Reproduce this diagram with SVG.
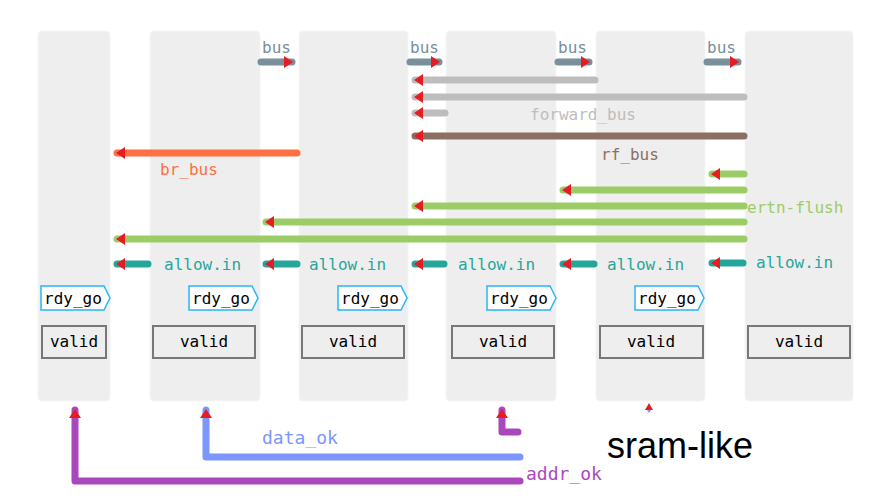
<svg xmlns="http://www.w3.org/2000/svg" width="892" height="502" viewBox="0 0 892 502">
<defs>
<style>
.col{fill:#eeeeee;stroke:#f5f5f5;stroke-width:1}
.w{fill:none;stroke-width:7;stroke-linecap:round;stroke-linejoin:round}
.t{font-family:"DejaVu Sans Mono","Liberation Mono",monospace;font-size:16px}
.valid{fill:#eeeeee;stroke:#777;stroke-width:2}
.rdy{fill:#fff;stroke:#29b6f6;stroke-width:1.5}
</style>
<marker id="ah" markerUnits="userSpaceOnUse" markerWidth="12" markerHeight="14" refX="8" refY="7" orient="auto"><path d="M0,1 L9,7 L0,13 Z" fill="#e51c23"/></marker>
</defs>
<rect width="892" height="502" fill="#fff"/>
<g id="columns">
<rect class="col" x="38" y="31" width="72" height="370" rx="4"/>
<rect class="col" x="150" y="31" width="110" height="370" rx="4"/>
<rect class="col" x="299" y="31" width="109" height="370" rx="4"/>
<rect class="col" x="446" y="31" width="110" height="370" rx="4"/>
<rect class="col" x="596" y="31" width="109" height="370" rx="4"/>
<rect class="col" x="745" y="31" width="108" height="370" rx="4"/>
</g>
<g id="connectors">
<g stroke="#78909c" class="w"><path d="M261,62H292" marker-end="url(#ah)"/><path d="M410,62H439" marker-end="url(#ah)"/><path d="M558,62H589" marker-end="url(#ah)"/><path d="M707,62H738" marker-end="url(#ah)"/></g>
<g stroke="#bdbdbd" class="w"><path d="M595,80H415" marker-end="url(#ah)"/><path d="M744,97H415" marker-end="url(#ah)"/><path d="M445,113H415" marker-end="url(#ah)"/></g>
<path class="w" stroke="#8d6e63" d="M744,136H415" marker-end="url(#ah)"/>
<path class="w" stroke="#ff7043" d="M297,153H117" marker-end="url(#ah)"/>
<g stroke="#9ccc65" class="w"><path d="M744,174H712" marker-end="url(#ah)"/><path d="M744,190H563" marker-end="url(#ah)"/><path d="M744,206H415" marker-end="url(#ah)"/><path d="M744,222H266" marker-end="url(#ah)"/><path d="M744,239H117" marker-end="url(#ah)"/></g>
<g stroke="#26a69a" class="w"><path d="M148,264H117" marker-end="url(#ah)"/><path d="M297,264H266" marker-end="url(#ah)"/><path d="M444,264H415" marker-end="url(#ah)"/><path d="M594,264H563" marker-end="url(#ah)"/><path d="M743,263H712" marker-end="url(#ah)"/></g>
<path class="w" stroke="#ab47bc" d="M520,481H75V410" marker-end="url(#ah)"/>
<path class="w" stroke="#7b96ff" d="M520,457H206V410" marker-end="url(#ah)"/>
<path class="w" stroke="#ab47bc" d="M518,432H502V410" marker-end="url(#ah)"/>
<path d="M645,410L649,403L653,410Z" fill="#e51c23"/><path d="M647,410L649,413L651,410Z" fill="#7b96ff"/>
</g>
<g id="labels" class="t">
<text x="262" y="53" fill="#78909c">bus</text><text x="410" y="53" fill="#78909c">bus</text><text x="558" y="53" fill="#78909c">bus</text><text x="707" y="53" fill="#78909c">bus</text>
<text x="530" y="120" fill="#bdbdbd">forward_bus</text>
<text x="601" y="160" fill="#8d6e63">rf_bus</text>
<text x="160" y="175" fill="#ff7043">br_bus</text>
<text x="747" y="213" fill="#9ccc65">ertn-flush</text>
<g fill="#26a69a"><text x="164" y="270">allow.in</text><text x="309" y="270">allow.in</text><text x="458" y="270">allow.in</text><text x="607" y="270">allow.in</text><text x="756" y="268">allow.in</text></g>
<text x="262" y="444" fill="#7b96ff" font-size="18">data_ok</text>
<text x="526" y="480" fill="#ab47bc" font-size="18">addr_ok</text>
<text x="607" y="458" fill="#000" font-family="'Liberation Sans',sans-serif" font-size="36">sram-like</text>
</g>
<g id="rdy_go" class="t" font-size="15">
<g id="rdy1"><path class="rdy" d="M41,286H104L110,298L104,310H41Z"/><text x="44" y="304">rdy_go</text></g>
<g id="rdy2"><path class="rdy" d="M189,286H252L258,298L252,310H189Z"/><text x="192" y="304">rdy_go</text></g>
<g id="rdy3"><path class="rdy" d="M338,286H401L407,298L401,310H338Z"/><text x="341" y="304">rdy_go</text></g>
<g id="rdy4"><path class="rdy" d="M487,286H550L556,298L550,310H487Z"/><text x="490" y="304">rdy_go</text></g>
<g id="rdy5"><path class="rdy" d="M635,286H698L704,298L698,310H635Z"/><text x="638" y="304">rdy_go</text></g>
</g>
<g id="valid" class="t" font-size="14">
<g id="v1"><rect class="valid" x="42" y="326" width="64" height="32"/><text x="74" y="347" text-anchor="middle">valid</text></g>
<g id="v2"><rect class="valid" x="153" y="326" width="102" height="32"/><text x="204" y="347" text-anchor="middle">valid</text></g>
<g id="v3"><rect class="valid" x="302" y="326" width="102" height="32"/><text x="353" y="347" text-anchor="middle">valid</text></g>
<g id="v4"><rect class="valid" x="452" y="326" width="102" height="32"/><text x="503" y="347" text-anchor="middle">valid</text></g>
<g id="v5"><rect class="valid" x="600" y="326" width="103" height="32"/><text x="651" y="347" text-anchor="middle">valid</text></g>
<g id="v6"><rect class="valid" x="748" y="326" width="102" height="32"/><text x="799" y="347" text-anchor="middle">valid</text></g>
</g>
</svg>
